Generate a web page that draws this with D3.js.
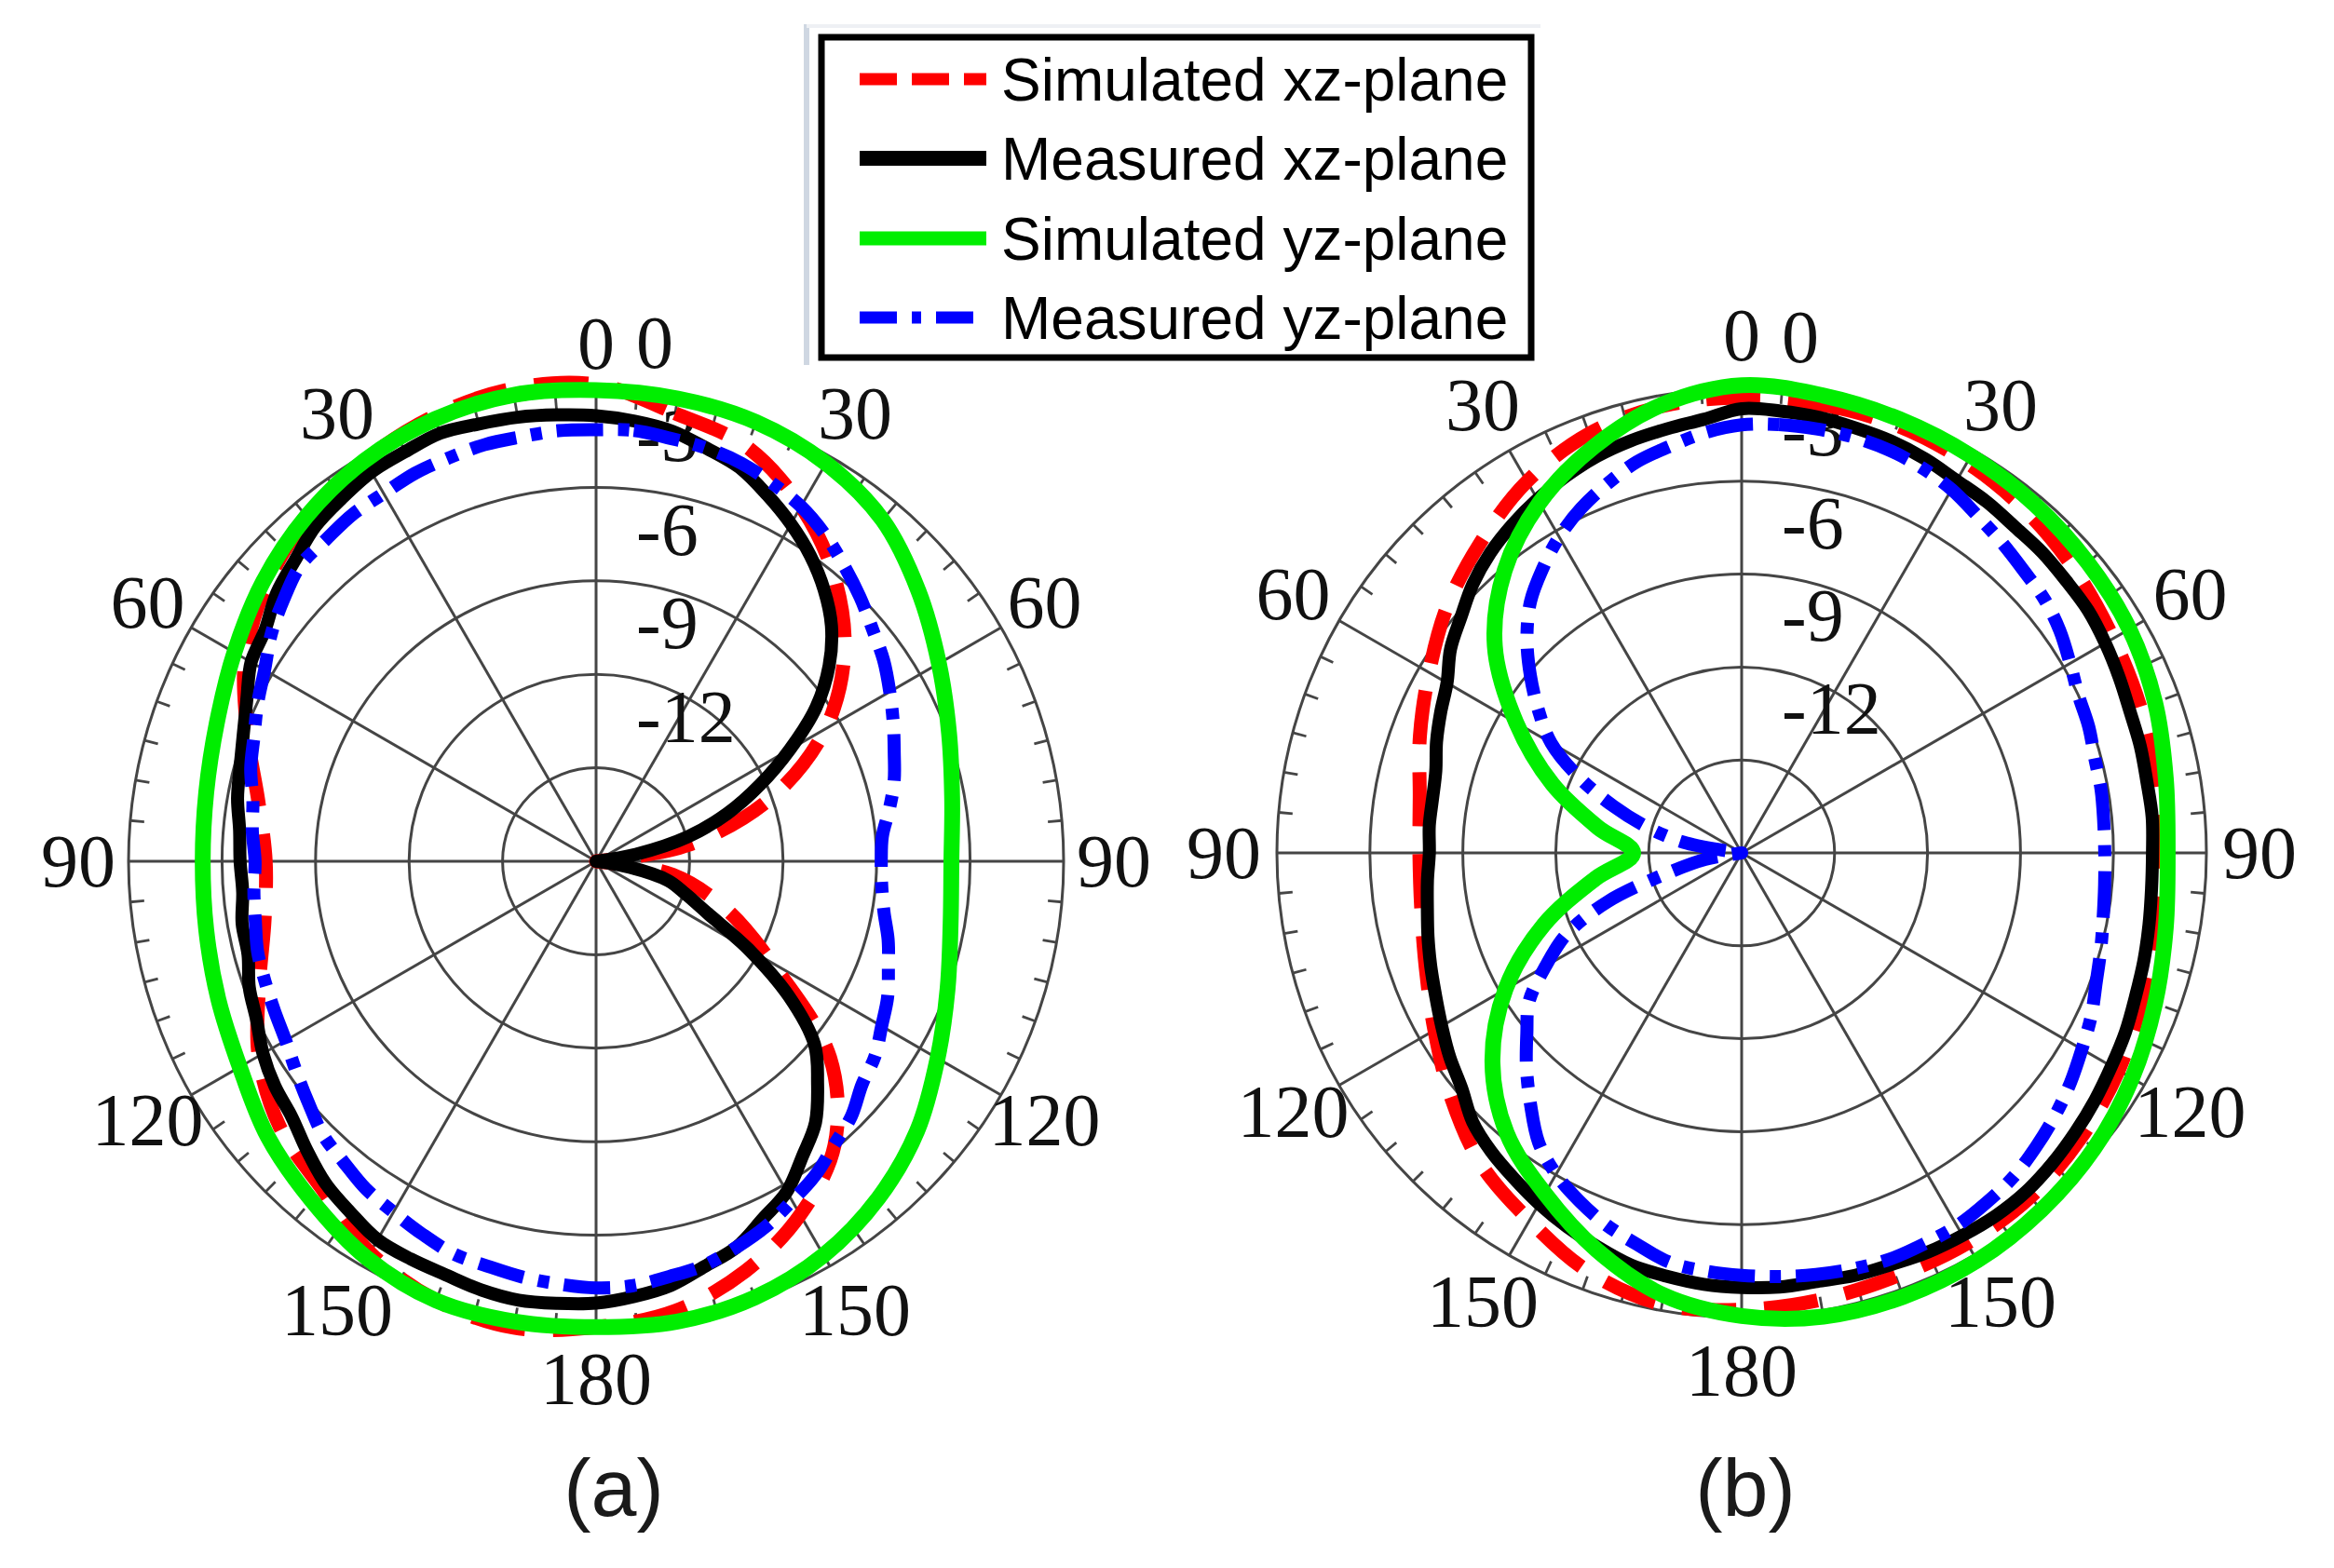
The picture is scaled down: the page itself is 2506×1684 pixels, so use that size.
<!DOCTYPE html>
<html>
<head>
<meta charset="utf-8">
<script src="https://cdn.jsdelivr.net/npm/d3@7"></script>
<style>
  html, body { margin: 0; padding: 0; background: #fff; }
  svg { display: block; }
</style>
</head>
<body>
<svg id="chart"></svg>
<script>
// angles in degrees, clockwise from the top of each polar plot
const anglesFine = [0,5,10,15,20,25,30,35,40,45,50,55,60,65,70,75,80,85,90,95,100,105,110,115,
  120,125,130,135,140,145,150,155,160,165,170,175,180,185,190,195,200,205,210,215,220,225,230,235,
  240,245,250,255,260,265,270,275,280,285,290,295,300,305,310,315,320,325,330,335,340,345,350,355];
const anglesCoarse = [0,10,20,30,40,50,60,70,80,90,100,110,120,130,140,150,160,170,
  180,190,200,210,220,230,240,250,260,270,280,290,300,310,320,330,340,350];
const anglesCoarseNull = [0,10,20,30,40,50,60,70,80,85,90,95,100,110,120,130,140,150,160,170,
  180,190,200,210,220,230,240,250,260,270,280,290,300,310,320,330,340,350];

// (a) gain in dB
const simXzA = [0.3,-0.4,-0.85,-1.85,-3.1,-4.6,-6.5,-9.0,-12.0,-15.5,-20,-15.5,-12.5,-10.6,-8.5,-5.2,-3.1,-1.9,-1.0,-0.35,
  -0.05,0.2,0.0,-0.5,-1.3,-1.75,-2.5,-3.5,-4.2,-4.4,-4.0,-3.1,-2.0,-1.2,-0.6,-0.15,0.2,0.4];
const measXzA = [-0.70,-0.82,-0.98,-1.28,-1.55,-2.02,-2.50,-3.02,-3.62,-4.32,-5.24,-6.38,-7.82,-9.20,-10.52,-11.95,
  -13.7,-16,-20,-16,-13.9,-12.6,-11.95,-11.05,-9.35,-7.45,-5.85,-4.95,-4.05,-3.45,-2.76,-2.34,-1.82,-1.54,-1.18,-0.98,
  -0.82,-0.76,-0.70,-0.76,-0.88,-0.92,-0.98,-1.25,-1.50,-1.88,-2.25,-2.42,-2.66,-2.98,-3.16,-3.44,-3.47,-3.62,
  -3.58,-3.52,-3.32,-3.18,-2.96,-2.64,-2.22,-2.04,-1.62,-1.34,-0.98,-0.78,-0.58,-0.50,-0.38,-0.47,-0.53,-0.62];
const simYzA = [0.12,0.08,0.0,-0.25,-0.7,-1.5,-2.3,-2.95,-3.4,-3.6,-3.45,-3.0,-2.35,-1.55,-0.9,-0.4,-0.1,0.0,
  -0.05,0.0,0.0,-0.3,-0.8,-1.25,-1.8,-2.1,-2.3,-2.38,-2.3,-2.05,-1.6,-1.05,-0.55,-0.15,0.1,0.2];
const measYzA = [-1.15,-1.12,-1.22,-1.28,-1.40,-1.62,-1.85,-2.20,-2.62,-3.02,-3.42,-3.74,-4.12,-4.48,-4.82,-5.10,
  -5.45,-5.78,-5.85,-5.80,-5.62,-5.30,-5.02,-4.68,-4.42,-4.08,-3.86,-3.42,-3.12,-2.72,-2.42,-2.08,-1.82,-1.58,-1.47,-1.33,
  -1.31,-1.38,-1.45,-1.55,-1.60,-1.80,-2.00,-2.15,-2.40,-2.60,-2.95,-3.25,-3.50,-3.62,-3.70,-3.76,-3.90,-3.98,
  -4.06,-3.93,-3.82,-3.53,-3.32,-3.02,-2.72,-2.28,-1.92,-1.58,-1.52,-1.40,-1.37,-1.26,-1.22,-1.16,-1.17,-1.13];

// (b) gain in dB
const simXzB = [-0.3,-0.3,-0.32,-0.45,-0.65,-0.9,-1.15,-1.3,-1.42,-1.48,-1.42,-1.25,-0.95,-0.7,-0.5,-0.45,-0.45,-0.35,
  -0.25,-0.2,-0.6,-1.3,-1.9,-2.75,-3.55,-4.15,-4.5,-4.6,-4.45,-3.95,-3.35,-2.6,-1.9,-1.15,-0.6,-0.35];
const measXzB = [-0.66,-0.68,-0.72,-0.80,-0.86,-0.97,-1.12,-1.18,-1.27,-1.28,-1.33,-1.35,-1.45,-1.56,-1.66,-1.68,
  -1.72,-1.70,-1.74,-1.72,-1.65,-1.56,-1.47,-1.33,-1.22,-1.08,-0.95,-0.82,-0.72,-0.70,-0.74,-0.78,-0.86,-0.88,-0.95,-0.93,
  -0.97,-1.02,-1.12,-1.22,-1.45,-1.68,-1.92,-2.18,-2.42,-2.72,-3.20,-3.50,-3.82,-4.10,-4.32,-4.52,-4.70,-4.82,
  -4.92,-4.88,-4.87,-4.78,-4.52,-4.28,-4.02,-3.53,-3.17,-2.73,-2.37,-2.08,-1.82,-1.58,-1.37,-1.22,-1.10,-0.95];
const simYzB = [0.1,0.0,-0.1,-0.2,-0.3,-0.42,-0.55,-0.8,-1.1,-1.25,-1.1,-0.8,-0.45,-0.15,0.05,0.2,0.25,0.2,
  -0.05,-0.5,-1.35,-2.3,-3.2,-4.5,-6.2,-8.2,-10.2,-11.5,-10.3,-8.5,-6.6,-4.6,-3.1,-1.95,-1.05,-0.3];
const measYzB = [-1.18,-1.12,-1.10,-1.10,-1.15,-1.27,-1.45,-1.72,-1.93,-2.12,-2.25,-2.47,-2.76,-3.00,-3.08,-3.20,
  -3.22,-3.27,-3.28,-3.24,-3.15,-3.00,-2.82,-2.55,-2.32,-2.05,-1.80,-1.57,-1.35,-1.22,-1.10,-1.07,-1.04,-1.10,-1.18,-1.27,
  -1.36,-1.45,-1.58,-1.92,-2.22,-2.60,-3.02,-3.58,-4.40,-5.18,-5.95,-6.62,-7.70,-8.75,-10.4,-12.6,-13.8,-15,
  -20,-15,-13.2,-11.9,-10.6,-9.2,-7.9,-7.0,-6.1,-5.2,-4.4,-3.8,-3.22,-2.73,-2.32,-1.93,-1.67,-1.38];

// axis ticks and labels
const ringValues = [-12, -9, -6, -3, 0];
const radialLabels = ["-12", "-9", "-6", "-3", "0"];
const spokeAngles = [0, 30, 60, 90, 120, 150, 180, 210, 240, 270, 300, 330];
const spokeLabels = ["0", "30", "60", "90", "120", "150", "180", "150", "120", "90", "60", "30"];
const legendNames = ["Simulated xz-plane", "Measured xz-plane", "Simulated yz-plane", "Measured yz-plane"];
const panelNames = ["(a)", "(b)"];

const width = 2506, height = 1684;
const svg = d3.select("#chart").attr("width", width).attr("height", height);
svg.append("rect").attr("width", width).attr("height", height).attr("fill", "#fff");

const styles = [
  { color: "#ff0000", width: 15, dash: "58 30", legendWidth: 13, legendDash: "40 16" },
  { color: "#000000", width: 14, dash: null, legendWidth: 16, legendDash: null },
  { color: "#00ee00", width: 17, dash: null, legendWidth: 15, legendDash: null },
  { color: "#0000ff", width: 14, dash: "50 16 12 16", legendWidth: 13, legendDash: "40 16 10 16" }
];

const panels = [
  { cx: 640, cy: 925, R: 502, label: panelNames[0], labelX: 659,
    series: [[anglesCoarseNull, simXzA], [anglesFine, measXzA], [anglesCoarse, simYzA], [anglesFine, measYzA]] },
  { cx: 1870, cy: 916, R: 499, label: panelNames[1], labelX: 1874,
    series: [[anglesCoarse, simXzB], [anglesFine, measXzB], [anglesCoarse, simYzB], [anglesFine, measYzB]] }
];

const rad = d => d * Math.PI / 180;
const gridColor = "#454545";

panels.forEach(p => {
  const g = svg.append("g").attr("transform", `translate(${p.cx},${p.cy})`);
  const r = d3.scaleLinear().domain([-15, 0]).range([0, p.R]);

  // rings
  g.selectAll("circle.ring")
    .data(ringValues)
    .join("circle")
    .attr("r", d => r(d))
    .attr("fill", "none")
    .attr("stroke", gridColor)
    .attr("stroke-width", 3);

  // spokes
  g.selectAll("line.spoke")
    .data(spokeAngles)
    .join("line")
    .attr("x1", 0).attr("y1", 0)
    .attr("x2", d => p.R * Math.sin(rad(d)))
    .attr("y2", d => -p.R * Math.cos(rad(d)))
    .attr("stroke", gridColor)
    .attr("stroke-width", 3);

  // minor ticks every 5 degrees on the outer ring
  const tickAngles = d3.range(0, 360, 5).filter(a => a % 30 !== 0);
  g.selectAll("line.tick")
    .data(tickAngles)
    .join("line")
    .attr("x1", d => p.R * Math.sin(rad(d)))
    .attr("y1", d => -p.R * Math.cos(rad(d)))
    .attr("x2", d => (p.R - 15) * Math.sin(rad(d)))
    .attr("y2", d => -(p.R - 15) * Math.cos(rad(d)))
    .attr("stroke", gridColor)
    .attr("stroke-width", 2.8);

  // angle labels
  g.selectAll("text.ang")
    .data(spokeAngles)
    .join("text")
    .attr("x", d => 556 * Math.sin(rad(d)))
    .attr("y", d => -556 * Math.cos(rad(d)))
    .attr("text-anchor", "middle")
    .attr("dy", "0.34em")
    .style("font-family", "'Liberation Serif', 'Times New Roman', serif")
    .style("font-size", "80px")
    .attr("fill", "#111")
    .text((d, i) => spokeLabels[i]);

  // radial labels
  g.selectAll("text.rad")
    .data(ringValues)
    .join("text")
    .attr("x", 43)
    .attr("y", d => -r(d) - 28)
    .style("font-family", "'Liberation Serif', 'Times New Roman', serif")
    .style("font-size", "80px")
    .attr("fill", "#111")
    .text((d, i) => radialLabels[i]);

  // traces
  const line = d3.lineRadial()
    .angle(d => rad(d[0]))
    .radius(d => r(Math.max(d[1], -15)))
    .curve(d3.curveCatmullRomClosed.alpha(0.5));

  p.series.forEach(([angles, values], i) => {
    const pts = angles.map((a, k) => [a, values[k]]);
    const s = styles[i];
    g.append("path")
      .attr("d", line(pts))
      .attr("fill", "none")
      .attr("stroke", s.color)
      .attr("stroke-width", s.width)
      .attr("stroke-linejoin", "round")
      .attr("stroke-dasharray", s.dash);
  });

  svg.append("text")
    .attr("x", p.labelX)
    .attr("y", 1628)
    .attr("text-anchor", "middle")
    .style("font-family", "'Liberation Sans', Arial, sans-serif")
    .style("font-size", "88px")
    .attr("fill", "#1a1a1a")
    .text(p.label);
});

// legend
svg.append("line")
  .attr("x1", 866).attr("x2", 866).attr("y1", 26).attr("y2", 392)
  .attr("stroke", "#cfd7e2").attr("stroke-width", 6);
svg.append("line")
  .attr("x1", 866).attr("x2", 1654).attr("y1", 28).attr("y2", 28)
  .attr("stroke", "#eef0f4").attr("stroke-width", 4);

const legend = svg.append("g");
legend.append("rect")
  .attr("x", 882).attr("y", 40)
  .attr("width", 762).attr("height", 344)
  .attr("fill", "#fff")
  .attr("stroke", "#000")
  .attr("stroke-width", 7);

const rowY = [85, 170, 256, 341];
legendNames.forEach((name, i) => {
  const s = styles[i];
  legend.append("line")
    .attr("x1", 923).attr("x2", 1059)
    .attr("y1", rowY[i]).attr("y2", rowY[i])
    .attr("stroke", s.color)
    .attr("stroke-width", s.legendWidth)
    .attr("stroke-dasharray", s.legendDash);
  legend.append("text")
    .attr("x", 1075)
    .attr("y", rowY[i] + 23)
    .style("font-family", "'Liberation Sans', Arial, sans-serif")
    .style("font-size", "64px")
    .attr("fill", "#000")
    .text(name);
});
</script>
</body>
</html>
